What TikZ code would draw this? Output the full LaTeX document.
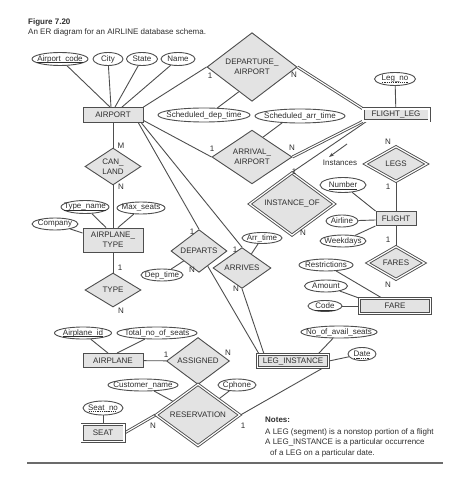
\documentclass[tikz,border=0pt]{standalone}
\usepackage{fontspec}
\setmainfont{Liberation Sans}
\usetikzlibrary{shapes.geometric,backgrounds,calc,arrows.meta}
\definecolor{lc}{HTML}{4E4E4E}
\definecolor{efill}{HTML}{E3E3E3}
\definecolor{tc}{HTML}{2E2E2E}
\newcommand\lab{\fontsize{8bp}{10bp}\selectfont}
\newcommand\keyul[1]{\setbox0\hbox{#1}\leavevmode\rlap{\raisebox{-1.8bp}[0pt][0pt]{\rule{\wd0}{0.5bp}}}\box0}
\newcommand\dashul[1]{\setbox0\hbox{#1}\leavevmode\rlap{\raisebox{-1.8bp}[0pt][0pt]{\hbox to \wd0{\leaders\hbox to 2.2bp{\hss\rule{1.3bp}{0.5bp}\hss}\hfill}}}\box0}
\tikzset{
  sz/.style 2 args={minimum width=#1bp, minimum height=#2bp},
  ent/.style={rectangle, draw=lc, fill=efill, line width=0.9bp, inner sep=0pt, align=center},
  went/.style={ent, double=white, double distance=1.2bp},
  rel/.style={diamond, draw=lc, fill=efill, line width=0.9bp, inner sep=0pt, align=center},
  wrel/.style={rel, double=white, double distance=1.2bp},
  att/.style={ellipse, draw=lc, fill=white, line width=0.9bp, inner xsep=-6bp, inner ysep=0pt},
  conn/.style={draw=lc, line width=0.9bp},
  tot/.style={draw=lc, line width=0.9bp, double=white, double distance=1.1bp},
  card/.style={inner sep=0pt}
}
\begin{document}
\begin{tikzpicture}[x=1bp,y=-1bp, every node/.style={text=tc, font=\lab}]
\useasboundingbox (0,0) rectangle (474,480);

% title
\node[anchor=base west, inner sep=0pt, font=\bfseries\lab] (fig) at (28,25) {Figure 7.20};
\node[anchor=base west, inner sep=0pt] (cap) at (28,35) {An ER diagram for an AIRLINE database schema.};

% entities
\node[ent, sz={60}{15}] (airport) at (113,115) {AIRPORT};
\node[went, sz={66}{12}] (flightleg) at (396,115) {FLIGHT\_LEG};
\node[ent, sz={60}{24}] (aptype) at (113,240) {AIRPLANE\_\\TYPE};
\node[ent, sz={60}{14}] (airplane) at (113,360.5) {AIRPLANE};
\node[ent, sz={40}{14}] (flight) at (396,218.5) {FLIGHT};
\node[went, sz={71}{15}] (fare) at (395,306) {FARE};
\node[went, sz={71}{13}] (leginst) at (293,361) {LEG\_INSTANCE};
\node[went, sz={42}{17}] (seat) at (103,433) {SEAT};

% relationships
\node[rel, sz={90}{50}] (depair) at (252,67) {DEPARTURE\_\\AIRPORT};
\node[rel, sz={80}{47}] (arrair) at (252,157) {ARRIVAL\_\\AIRPORT};
\node[rel, sz={56}{33}] (can) at (113,166.5) {CAN\_\\LAND};
\node[rel, sz={56}{34}] (typer) at (113,290) {TYPE};
\node[rel, sz={56}{33}] (departs) at (199,251) {DEPARTS};
\node[rel, sz={58}{33}] (arrives) at (242,268) {ARRIVES};
\node[rel, sz={63}{33}] (assigned) at (198,361) {ASSIGNED};
\node[wrel, sz={84}{48}] (reserv) at (198,415) {RESERVATION};
\node[wrel, sz={62}{35}] (legs) at (396,164) {LEGS};
\node[wrel, sz={57}{33}] (fares) at (396,263) {FARES};
\node[wrel, sz={85}{46}] (instof) at (292,204) {INSTANCE\_OF};

% attributes
\node[att, sz={56}{13}] (apcode) at (60,59) {\keyul{Airport\_code}};
\node[att, sz={30}{13}] (city) at (108,59) {City};
\node[att, sz={31}{13}] (state) at (142,59) {State};
\node[att, sz={34}{13}] (aname) at (178,59) {Name};
\node[att, sz={92}{14}] (sdep) at (204,115) {Scheduled\_dep\_time};
\node[att, sz={90}{14}] (sarr) at (300,116) {Scheduled\_arr\_time};
\node[att, sz={41}{13}] (legno) at (395,79) {\dashul{Leg\_no}};
\node[att, sz={46}{15}] (number) at (343,185) {\keyul{Number}};
\node[att, sz={32}{12}] (airline) at (342,221) {Airline};
\node[att, sz={46}{12}] (weekdays) at (343,241) {Weekdays};
\node[att, sz={54}{12}] (restr) at (326,265) {Restrictions};
\node[att, sz={43}{12}] (amount) at (326,286) {Amount};
\node[att, sz={34}{11}] (code) at (325,306) {\keyul{Code}};
\node[att, sz={76}{12}] (noavail) at (339,332) {No\_of\_avail\_seats};
\node[att, sz={28}{13}] (date) at (362,354) {\dashul{Date}};
\node[att, sz={48}{13}] (typename) at (85,207) {\keyul{Type\_name}};
\node[att, sz={48}{12}] (maxseats) at (141,208) {Max\_seats};
\node[att, sz={46}{12}] (company) at (55,224) {Company};
\node[att, sz={42}{12}] (deptime) at (162,275) {Dep\_time};
\node[att, sz={40}{11}] (arrtime) at (262,238) {Arr\_time};
\node[att, sz={57}{12}] (airplaneid) at (83,333) {\keyul{Airplane\_id}};
\node[att, sz={80}{12}] (totseats) at (157,333) {Total\_no\_of\_seats};
\node[att, sz={70}{12}] (custname) at (143,385) {Customer\_name};
\node[att, sz={38}{12}] (cphone) at (237,385) {Cphone};
\node[att, sz={40}{14}] (seatno) at (103,408) {\dashul{Seat\_no}};

% cardinalities
\node[card] (c1) at (210,76) {1};
\node[card] (c2) at (294,75) {N};
\node[card] (c3) at (212,149) {1};
\node[card] (c4) at (292,148) {N};
\node[card] (c5) at (294,172) {1};
\node[card] (c6) at (303,233) {N};
\node[card] (c7) at (388,142) {N};
\node[card] (c8) at (388,187) {1};
\node[card] (c9) at (388,240) {1};
\node[card] (c10) at (388,285) {N};
\node[card] (c11) at (121,146) {M};
\node[card] (c12) at (121,187) {N};
\node[card] (c13) at (120,268) {1};
\node[card] (c14) at (121,311) {N};
\node[card] (c15) at (192,232) {1};
\node[card] (c16) at (192,270) {N};
\node[card] (c17) at (235,250) {1};
\node[card] (c18) at (236,289) {N};
\node[card] (c19) at (166,355) {1};
\node[card] (c20) at (228,353) {N};
\node[card] (c21) at (153,426) {N};
\node[card] (c22) at (243,426) {1};

% instances arrow
\node[card] (inst) at (340,163) {Instances};
\coordinate (ia1) at (347,144);
\coordinate (ia2) at (329,157);
\draw[conn, -{Stealth[length=5bp,width=3.5bp]}] (ia1) -- (ia2);

% notes
\node[anchor=base west, inner sep=0pt, font=\bfseries\lab] (notes) at (265,422) {Notes:};
\node[anchor=base west, inner sep=0pt] (n1) at (265,434) {A LEG (segment) is a nonstop portion of a flight};
\node[anchor=base west, inner sep=0pt] (n2) at (265,444) {A LEG\_INSTANCE is a particular occurrence};
\node[anchor=base west, inner sep=0pt] (n3) at (270,455) {of a LEG on a particular date.};
\coordinate (r1) at (27,463);
\coordinate (r2) at (443,463);
\draw[line width=1.8bp, draw=black!58] (r1) -- (r2);

\begin{scope}[on background layer]
\draw[conn] (apcode) -- ($(airport.north)+(-3,0)$);
\draw[conn] (city) -- ($(airport.north)+(-2,0)$);
\draw[conn] (state) -- ($(airport.north)+(2,0)$);
\draw[conn] (aname) -- ($(airport.north)+(9,0)$);
\draw[conn] (airport) -- (can);
\draw[conn] (can) -- (aptype);
\draw[conn] (typename) -- ($(aptype.north)+(-7,0)$);
\draw[conn] (maxseats) -- ($(aptype.north)+(5,0)$);
\draw[conn] (company) -- ($(aptype.west)+(0,-7)$);
\draw[conn] (aptype) -- (typer);
\draw[tot] (typer) -- (airplane);
\draw[conn] (airplaneid) -- ($(airplane.north)+(-5,0)$);
\draw[conn] (totseats) -- ($(airplane.north)+(4,0)$);
\draw[conn] (airplane) -- (assigned);
\draw[tot] (assigned.east) -- (leginst.west);
\draw[conn] (airport.north east) -- (depair.west);
\draw[tot] (depair.east) -- (flightleg.north west);
\draw[conn] (sdep.28) -- (depair.242);
\draw[conn] ($(airport.south east)+(0,-2.5)$) -- (arrair.west);
\draw[tot] (arrair.east) -- (flightleg.south west);
\draw[conn] (sarr.201) -- (arrair.61);
\draw[conn] ($(flightleg.south west)+(4,0)$) -- (instof.north);
\draw[tot] (instof.south) -- ($(leginst.north)+(-1,0)$);
\draw[conn] (legno) -- (flightleg);
\draw[tot] (flightleg) -- (legs);
\draw[conn] (legs) -- (flight);
\draw[conn] (flight) -- (fares);
\draw[tot] (fares) -- ($(fare.north)+(1,0)$);
\draw[conn] (number) -- (flight.north west);
\draw[conn] (airline) -- ($(flight.west)+(0,1.5)$);
\draw[conn] (weekdays) -- (flight.south west);
\draw[conn] (restr) -- ($(fare.north)+(-13,0)$);
\draw[conn] (amount) -- (fare.north west);
\draw[conn] (code) -- (fare.west);
\draw[conn] (noavail) -- ($(leginst.north)+(25,0)$);
\draw[conn] (date) -- (leginst.east);
\draw[conn] ($(airport.south east)+(-5,0)$) -- (departs.north);
\draw[conn] ($(airport.south east)+(-2,0)$) -- (arrives.north);
\draw[conn] (departs.-60) -- ($(leginst.north west)+(2,0)$);
\draw[conn] (arrives.south) -- ($(leginst.north west)+(7,0)$);
\draw[conn] (deptime) -- (departs);
\draw[conn] (arrtime) -- (arrives);
\draw[conn] (custname) -- (reserv);
\draw[conn] (cphone) -- (reserv);
\draw[conn] (seatno) -- (seat);
\draw[tot] (seat.east) -- (reserv.west);
\draw[conn] (reserv.east) -- ($(leginst.south)+(30,0)$);
\end{scope}
\end{tikzpicture}
\end{document}
